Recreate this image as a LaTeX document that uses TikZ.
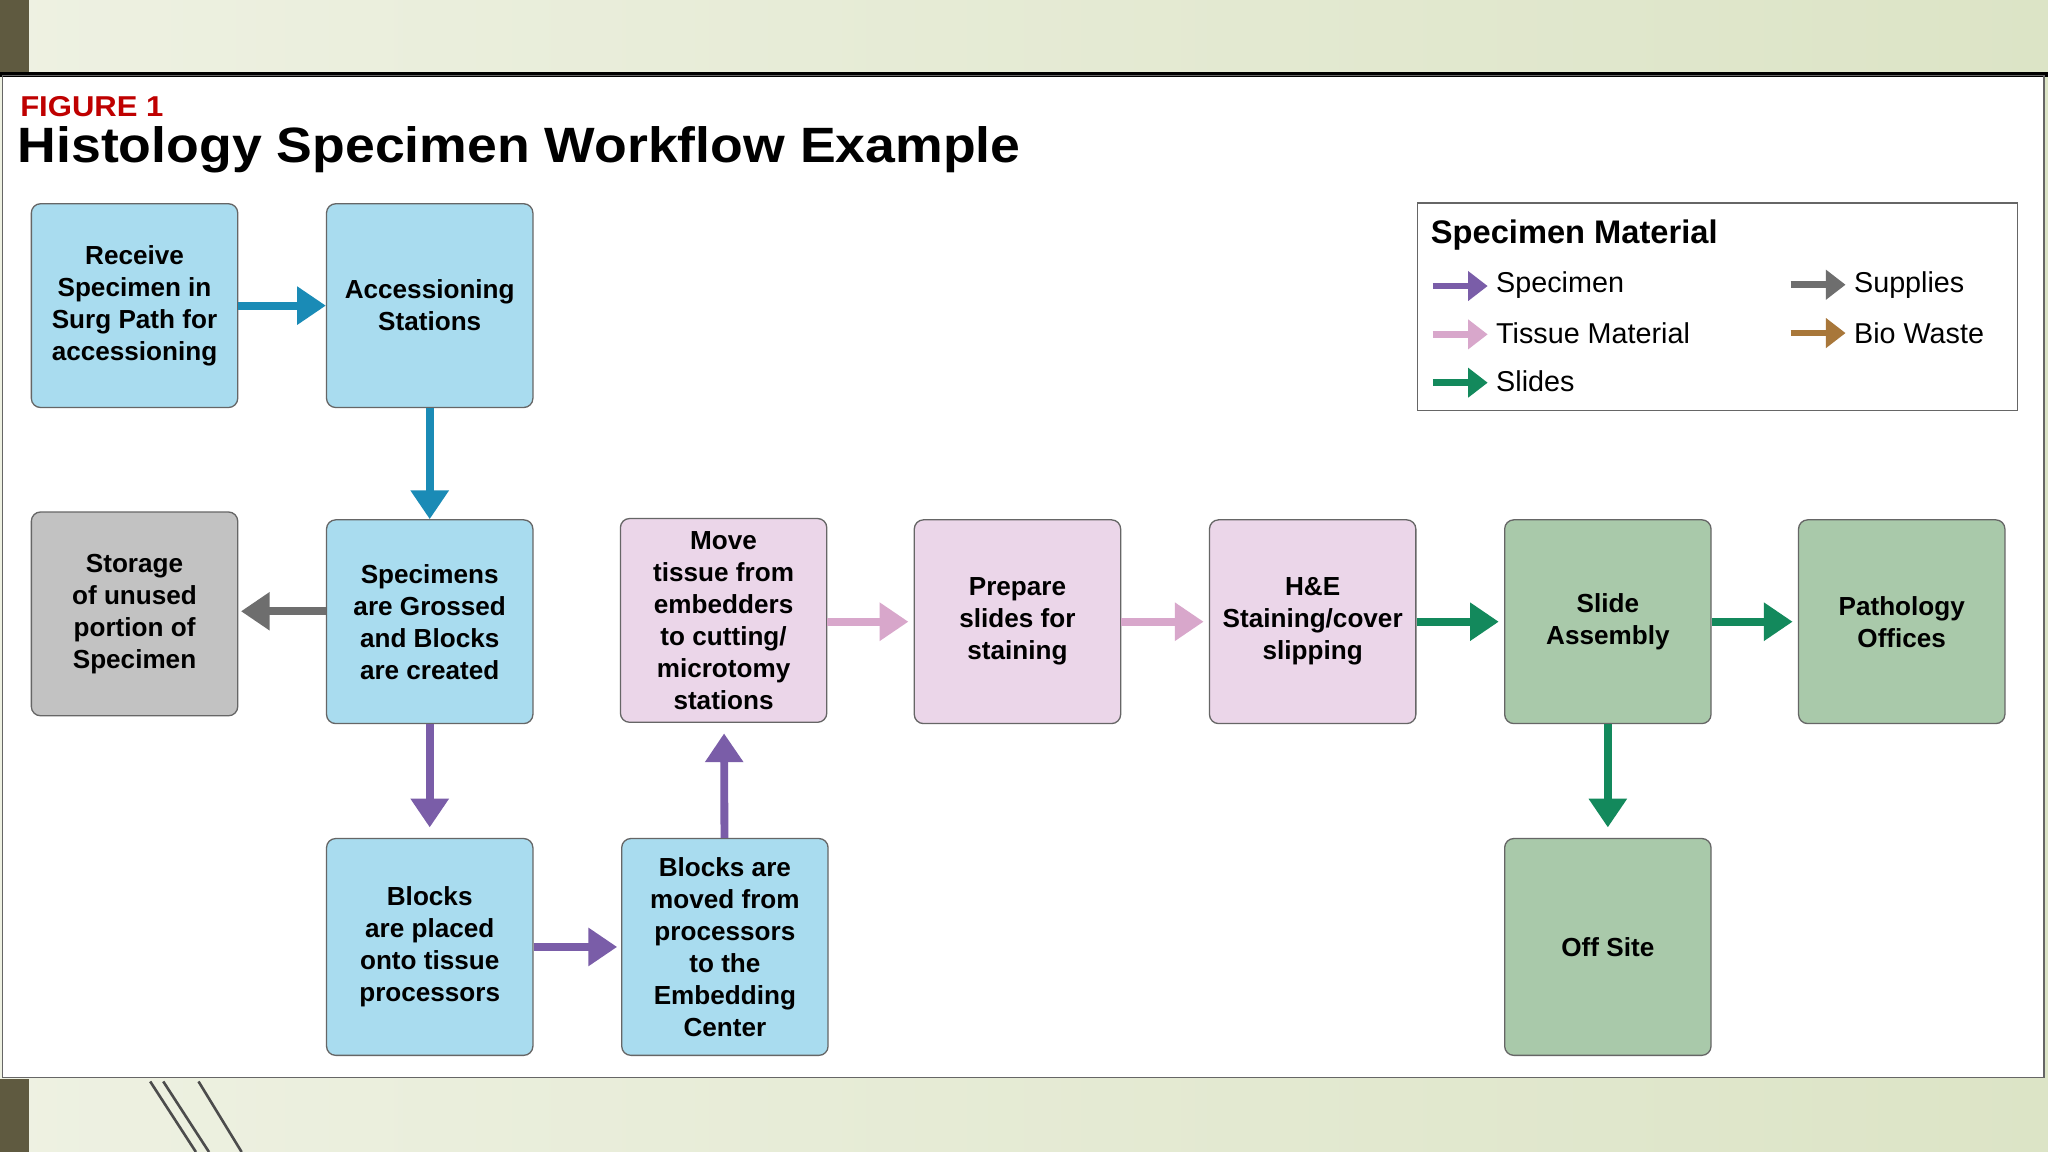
\documentclass[tikz,border=0pt]{standalone}
\usepackage{fontspec}
\setmainfont{Liberation Sans}
\usetikzlibrary{arrows.meta}
\definecolor{bbox}{HTML}{A9DCEF}
\definecolor{gbox}{HTML}{C2C2C2}
\definecolor{pbox}{HTML}{EBD6E9}
\definecolor{grbox}{HTML}{A9C9AA}
\definecolor{cblue}{HTML}{1A8BB6}
\definecolor{cpurple}{HTML}{7A5DA8}
\definecolor{cpink}{HTML}{D8A7CB}
\definecolor{cgreen}{HTML}{13895C}
\definecolor{cgray}{HTML}{6E6E6E}
\definecolor{cbrown}{HTML}{A8773A}
\definecolor{bgA}{HTML}{EEF1E2}
\definecolor{bgB}{HTML}{DCE4C6}
\definecolor{olive}{HTML}{5F5A40}
\begin{document}
\begin{tikzpicture}[x=1pt,y=-1pt,
 box/.style={draw=black!60,line width=1pt,rounded corners=7pt,minimum width=158pt,minimum height=156pt,align=center,font=\bfseries\fontsize{20}{24.5}\selectfont,inner sep=2pt},
 bl/.style={box,fill=bbox}, gy/.style={box,fill=gbox}, pk/.style={box,fill=pbox}, gr/.style={box,fill=grbox},
 arr/.style={line width=6pt,-{Triangle[length=22pt,width=28pt]}},
 larr/.style={line width=5pt,-{Triangle[length=15pt,width=22pt]}},
 lt/.style={anchor=west,font=\fontsize{22}{26}\selectfont}]
\useasboundingbox (0,0) rectangle (1568,882);
\shade[left color=bgA,right color=bgB] (0,0) rectangle (1568,882);
\fill[olive] (0,0) rectangle (22,55);
\fill[olive] (0,826) rectangle (22,882);
\fill[white] (2,58) rectangle (1565,825);
\draw[black,line width=4pt] (0,57) -- (1568,57);
\draw[black!60,line width=1pt] (2,58) rectangle (1565,825);
\draw[black!70,line width=2pt] (115,828) -- (150,882) (125,828) -- (160,882) (152,828) -- (185,882);
\node[anchor=west,text=red!75!black,font=\bfseries\fontsize{22}{24}\selectfont] (fig) at (12,82) {\scalebox{1.08}[1]{FIGURE 1}};
\node[anchor=west,font=\bfseries\fontsize{38}{40}\selectfont] (title) at (10,115) {\scalebox{1.08}[1]{Histology Specimen Workflow Example}};

\node[bl] (rec) at (103,234) {Receive\\Specimen in\\Surg Path for\\accessioning};
\node[bl] (acc) at (329,234) {Accessioning\\Stations};
\node[gy] (sto) at (103,470) {Storage\\of unused\\portion of\\Specimen};
\node[bl] (gro) at (329,476) {Specimens\\are Grossed\\and Blocks\\are created};
\node[pk] (mov) at (554,475) {Move\\tissue from\\embedders\\to cutting/\\microtomy\\stations};
\node[pk] (pre) at (779,476) {Prepare\\slides for\\staining};
\node[pk] (he) at (1005,476) {H\&E\\Staining/cover\\slipping};
\node[gr] (sa) at (1231,476) {Slide\\Assembly};
\node[gr] (po) at (1456,476) {Pathology\\Offices};
\node[bl,minimum height=166pt] (bp) at (329,725) {Blocks\\are placed\\onto tissue\\processors};
\node[bl,minimum height=166pt] (bm) at (555,725) {Blocks are\\moved from\\processors\\to the\\Embedding\\Center};
\node[gr,minimum height=166pt] (off) at (1231,725) {Off Site};

\draw[arr,cblue] (rec) -- (acc);
\draw[arr,cblue] (acc) -- (gro);
\draw[arr,cgray,shorten >=2pt] ([yshift=8pt]gro.west) -- ([yshift=8pt]sto.east|-gro.west);
\draw[arr,cpurple,shorten >=8pt] (gro) -- (bp);
\draw[arr,cpurple,shorten >=3pt] (bp) -- (bm);
\draw[arr,cpurple,shorten >=8pt] (bm) -- (mov);
\draw[arr,cpink,shorten >=4pt] (mov.east|-pre) -- (pre);
\draw[arr,cpink,shorten >=4pt] (pre) -- (he);
\draw[arr,cgreen,shorten >=4pt] (he) -- (sa);
\draw[arr,cgreen,shorten >=4pt] (sa) -- (po);
\draw[arr,cgreen,shorten >=8pt] (sa) -- (off);

\node[draw=black!60,line width=1pt,minimum width=459pt,minimum height=159pt,anchor=north west] (leg) at (1085,155) {};
\node[anchor=west,font=\bfseries\fontsize{25}{28}\selectfont] (lt) at (1092,180) {Specimen Material};
\coordinate (a1) at (1097,219); \coordinate (b1) at (1139,219);
\coordinate (a2) at (1097,256); \coordinate (b2) at (1139,256);
\coordinate (a3) at (1097,293); \coordinate (b3) at (1139,293);
\coordinate (a4) at (1371,218); \coordinate (b4) at (1413,218);
\coordinate (a5) at (1371,255); \coordinate (b5) at (1413,255);
\draw[larr,cpurple] (a1) -- (b1); \node[lt] (t1) at (1142,218) {Specimen};
\draw[larr,cpink] (a2) -- (b2); \node[lt] (t2) at (1142,255) {Tissue Material};
\draw[larr,cgreen] (a3) -- (b3); \node[lt] (t3) at (1142,292) {Slides};
\draw[larr,cgray] (a4) -- (b4); \node[lt] (t4) at (1416,218) {Supplies};
\draw[larr,cbrown] (a5) -- (b5); \node[lt] (t5) at (1416,255) {Bio Waste};
\end{tikzpicture}
\end{document}
